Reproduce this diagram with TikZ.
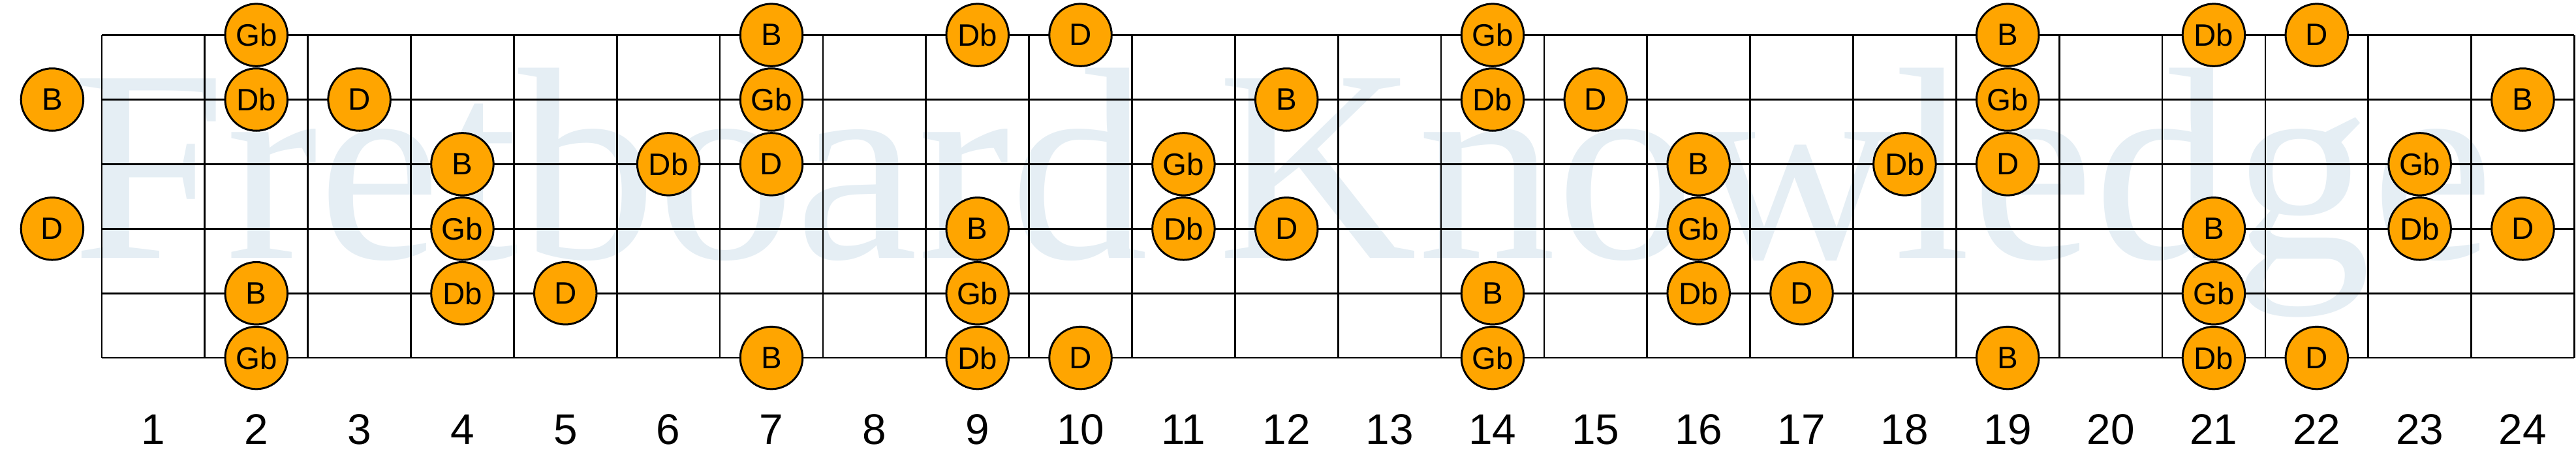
\documentclass[tikz,border=0pt]{standalone}
\usepackage{fontspec}
\setmainfont{Liberation Sans}
\newfontfamily\markfont{Liberation Serif}
\definecolor{noteorange}{HTML}{FFA500}
\definecolor{markblue}{HTML}{E5EEF4}
\tikzset{
  note/.style={circle, draw, line width=0.03cm, fill=noteorange, minimum size=0.955cm, inner sep=0pt, font=\fontsize{13.5}{16}\selectfont},
  fretnum/.style={anchor=base, inner sep=0pt, font=\fontsize{18.7}{22}\selectfont},
  wire/.style={line width=0.027cm}
}
\begin{document}
\begin{tikzpicture}[x=1.5785cm, y=0.989cm]
\useasboundingbox (-0.988,0.542) rectangle (24.0165,-6.566);
\node[anchor=base west, inner sep=0pt, text=markblue, font=\markfont\fontsize{119.5}{120}\selectfont] (mark) at (-0.2914,-3.452) {\scalebox{1.01}[1]{Fretboard Knowledge}};
\foreach \s in {0,...,5} \draw[wire] (0,-\s) -- (24,-\s);
\foreach \f in {0,...,24} \draw[wire] (\f,0) -- (\f,-5);
\foreach \f in {1,...,24} \node[fretnum] (num\f) at (\f-0.5,-6.334) {\f};
\node[note] (o2) at (-0.4815,-1) {B};
\node[note] (o4) at (-0.4815,-3) {D};
\node[note] (f2s1) at (1.5,0) {Gb};
\node[note] (f2s2) at (1.5,-1) {Db};
\node[note] (f2s5) at (1.5,-4) {B};
\node[note] (f2s6) at (1.5,-5) {Gb};
\node[note] (f3s2) at (2.5,-1) {D};
\node[note] (f4s3) at (3.5,-2) {B};
\node[note] (f4s4) at (3.5,-3) {Gb};
\node[note] (f4s5) at (3.5,-4) {Db};
\node[note] (f5s5) at (4.5,-4) {D};
\node[note] (f6s3) at (5.5,-2) {Db};
\node[note] (f7s1) at (6.5,0) {B};
\node[note] (f7s2) at (6.5,-1) {Gb};
\node[note] (f7s3) at (6.5,-2) {D};
\node[note] (f7s6) at (6.5,-5) {B};
\node[note] (f9s1) at (8.5,0) {Db};
\node[note] (f9s4) at (8.5,-3) {B};
\node[note] (f9s5) at (8.5,-4) {Gb};
\node[note] (f9s6) at (8.5,-5) {Db};
\node[note] (f10s1) at (9.5,0) {D};
\node[note] (f10s6) at (9.5,-5) {D};
\node[note] (f11s3) at (10.5,-2) {Gb};
\node[note] (f11s4) at (10.5,-3) {Db};
\node[note] (f12s2) at (11.5,-1) {B};
\node[note] (f12s4) at (11.5,-3) {D};
\node[note] (f14s1) at (13.5,0) {Gb};
\node[note] (f14s2) at (13.5,-1) {Db};
\node[note] (f14s5) at (13.5,-4) {B};
\node[note] (f14s6) at (13.5,-5) {Gb};
\node[note] (f15s2) at (14.5,-1) {D};
\node[note] (f16s3) at (15.5,-2) {B};
\node[note] (f16s4) at (15.5,-3) {Gb};
\node[note] (f16s5) at (15.5,-4) {Db};
\node[note] (f17s5) at (16.5,-4) {D};
\node[note] (f18s3) at (17.5,-2) {Db};
\node[note] (f19s1) at (18.5,0) {B};
\node[note] (f19s2) at (18.5,-1) {Gb};
\node[note] (f19s3) at (18.5,-2) {D};
\node[note] (f19s6) at (18.5,-5) {B};
\node[note] (f21s1) at (20.5,0) {Db};
\node[note] (f21s4) at (20.5,-3) {B};
\node[note] (f21s5) at (20.5,-4) {Gb};
\node[note] (f21s6) at (20.5,-5) {Db};
\node[note] (f22s1) at (21.5,0) {D};
\node[note] (f22s6) at (21.5,-5) {D};
\node[note] (f23s3) at (22.5,-2) {Gb};
\node[note] (f23s4) at (22.5,-3) {Db};
\node[note] (f24s2) at (23.5,-1) {B};
\node[note] (f24s4) at (23.5,-3) {D};
\end{tikzpicture}
\end{document}
